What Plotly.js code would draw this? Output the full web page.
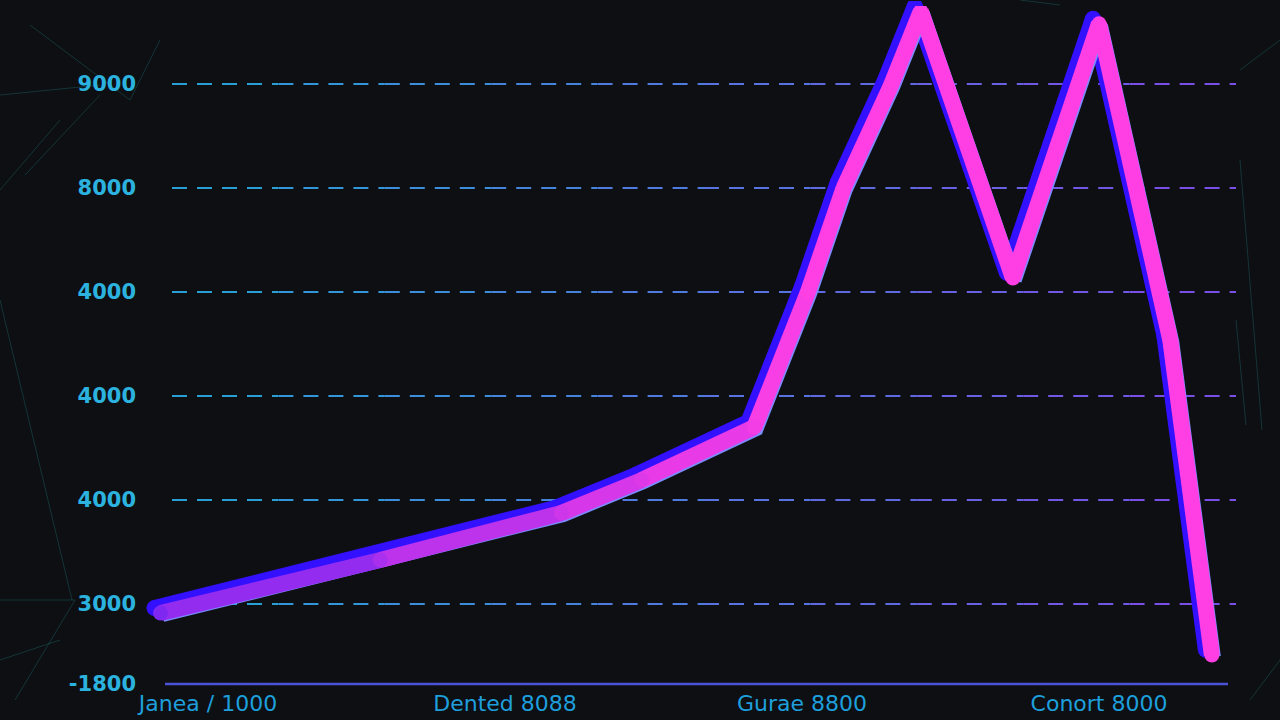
<!DOCTYPE html>
<html>
<head>
<meta charset="utf-8">
<script src="https://cdn.plot.ly/plotly-3.0.1.min.js"></script>
<style>
  html, body { margin: 0; padding: 0; background: #0d0f13; }
  #chart { width: 1280px; height: 720px; }
</style>
</head>
<body>
<div id="chart"></div>
<script>
// ---- data ----
const periods = [0.84, 1.58, 2.19, 2.46, 2.84, 3.02, 3.14, 3.30, 3.40, 3.71, 4.00, 4.24, 4.38];
const values  = [913, 1423, 1875, 2192, 2702, 4000, 5000, 5990, 6700, 4135, 6580, 3538, 510];
const xTickVals  = [1, 2, 3, 4];
const xTickText  = ["Janea / 1000", "Dented 8088", "Gurae 8800", "Conort 8000"];
const yTickVals  = [231, 1000, 2000, 3000, 4000, 5000, 6000];
const yTickText  = ["-1800", "3000", "4000", "4000", "4000", "8000", "9000"];

// ---- layout geometry (pixels) ----
const W = 1280, H = 720;
const M = {l: 140, r: 30, t: 0, b: 26};
const PW = W - M.l - M.r, PH = H - M.t - M.b;
const plot = {x0: 150, x1: 1240, y0: 6, y1: 684};  // main plot area in px
function xdom(dx) { return [(plot.x0 + dx - M.l) / PW, (plot.x1 + dx - M.l) / PW]; }
function ydom(dy) { return [(H - M.b - (plot.y1 + dy)) / PH, (H - M.b - (plot.y0 + dy)) / PH]; }
function px(x) { return (x - M.l) / PW; }
function py(y) { return (H - M.b - y) / PH; }
const xRange = [1 - 58 / 297, 1 + 1032 / 297];
const yRange = [230.8, 1000 + 598 / 104 * 1000];

// colour helpers
function hex2rgb(h) { return [1,3,5].map(i => parseInt(h.substr(i,2),16)); }
function mix(a, b, t) {
  t = Math.max(0, Math.min(1, t));
  const A = hex2rgb(a), B = hex2rgb(b);
  return 'rgb(' + A.map((v,i) => Math.round(v + (B[i]-v)*t)).join(',') + ')';
}
const cStart = '#7f28f2', cEnd = '#ff3fe4';
function colAt(x) { return mix(cStart, cEnd, (x - 0.84) / (3.05 - 0.84)); }

const LW = 16;
const traces = [];
// blue shadow (offset up-left)
traces.push({x: periods, y: values, xaxis: 'x', yaxis: 'y', mode: 'lines+markers',
  line: {color: '#3310ff', width: LW}, marker: {color: '#3310ff', size: LW},
  hoverinfo: 'skip', showlegend: false});
// light edge (offset down-right)
traces.push({x: periods, y: values, xaxis: 'x2', yaxis: 'y2', mode: 'lines',
  line: {color: '#7a8cff', width: LW - 2},
  hoverinfo: 'skip', showlegend: false});
// main gradient line, one segment per pair of points
for (let i = 0; i < periods.length - 1; i++) {
  const c = colAt((periods[i] + periods[i+1]) / 2);
  traces.push({x: [periods[i], periods[i+1]], y: [values[i], values[i+1]],
    xaxis: 'x3', yaxis: 'y3', mode: 'lines', line: {color: c, width: LW},
    hoverinfo: 'skip', showlegend: false});
}
traces.push({x: periods, y: values, xaxis: 'x3', yaxis: 'y3', mode: 'markers',
  marker: {color: periods.map(colAt), size: LW - 1}, hoverinfo: 'skip', showlegend: false});

// shapes: gradient dashed gridlines, baseline, faint background network
const shapes = [];
const gridCols = ['#2a9fd6', '#7a4fe6'];
const gx0 = 172, gx1 = 1236, nSeg = 10;
yTickVals.slice(1).forEach(v => {
  for (let s = 0; s < nSeg; s++) {
    const a = gx0 + (gx1 - gx0) * s / nSeg, b = gx0 + (gx1 - gx0) * (s + 1) / nSeg;
    shapes.push({type: 'line', layer: 'below', xref: 'paper', yref: 'y3',
      x0: px(a), x1: px(b), y0: v, y1: v,
      line: {color: mix(gridCols[0], gridCols[1], s / (nSeg - 1)), width: 2, dash: '15px,10px'}});
  }
});
shapes.push({type: 'line', layer: 'below', xref: 'paper', yref: 'paper',
  x0: px(165), x1: px(1228), y0: py(684), y1: py(684),
  line: {color: '#4b52d6', width: 2.5}});
const net = [[30,25,130,100],[0,95,100,85],[100,95,25,175],[130,100,160,40],[0,190,60,120],
  [0,300,72,600],[0,600,75,600],[75,600,15,700],[60,640,0,660],[1240,160,1262,430],
  [1236,320,1246,425],[1240,70,1280,40],[1250,700,1280,660],[1020,0,1060,5]];
net.forEach(s => shapes.push({type: 'line', layer: 'below', xref: 'paper', yref: 'paper',
  x0: px(s[0]), y0: py(s[1]), x1: px(s[2]), y1: py(s[3]),
  line: {color: 'rgba(40,150,150,0.28)', width: 1}}));

const hidden = {visible: false, showgrid: false, zeroline: false};
const layout = {
  width: W, height: H,
  margin: M,
  paper_bgcolor: '#0d0f13', plot_bgcolor: 'rgba(0,0,0,0)',
  showlegend: false,
  xaxis:  Object.assign({domain: xdom(-6), range: xRange, anchor: 'y'}, hidden),
  yaxis:  Object.assign({domain: ydom(-5), range: yRange, anchor: 'x'}, hidden),
  xaxis2: Object.assign({domain: xdom(2), range: xRange, anchor: 'y2'}, hidden),
  yaxis2: Object.assign({domain: ydom(2), range: yRange, anchor: 'x2'}, hidden),
  xaxis3: {domain: xdom(0), range: xRange, anchor: 'y3', showgrid: false, zeroline: false,
    showline: false, tickmode: 'array', tickvals: xTickVals, ticktext: xTickText,
    ticks: '', ticklabelstandoff: 4,
    tickfont: {family: 'DejaVu Sans', size: 22, color: '#1e9fdc'}},
  yaxis3: {domain: ydom(0), range: yRange, anchor: 'x3', showgrid: false, zeroline: false,
    showline: false, tickmode: 'array', tickvals: yTickVals, ticktext: yTickText,
    ticks: '', ticklabelstandoff: 13,
    tickfont: {family: 'DejaVu Sans', size: 21, color: '#2cb2de', weight: 'bold'}},
  shapes: shapes
};
Plotly.newPlot('chart', traces, layout, {staticPlot: true, displayModeBar: false});
</script>
</body>
</html>
